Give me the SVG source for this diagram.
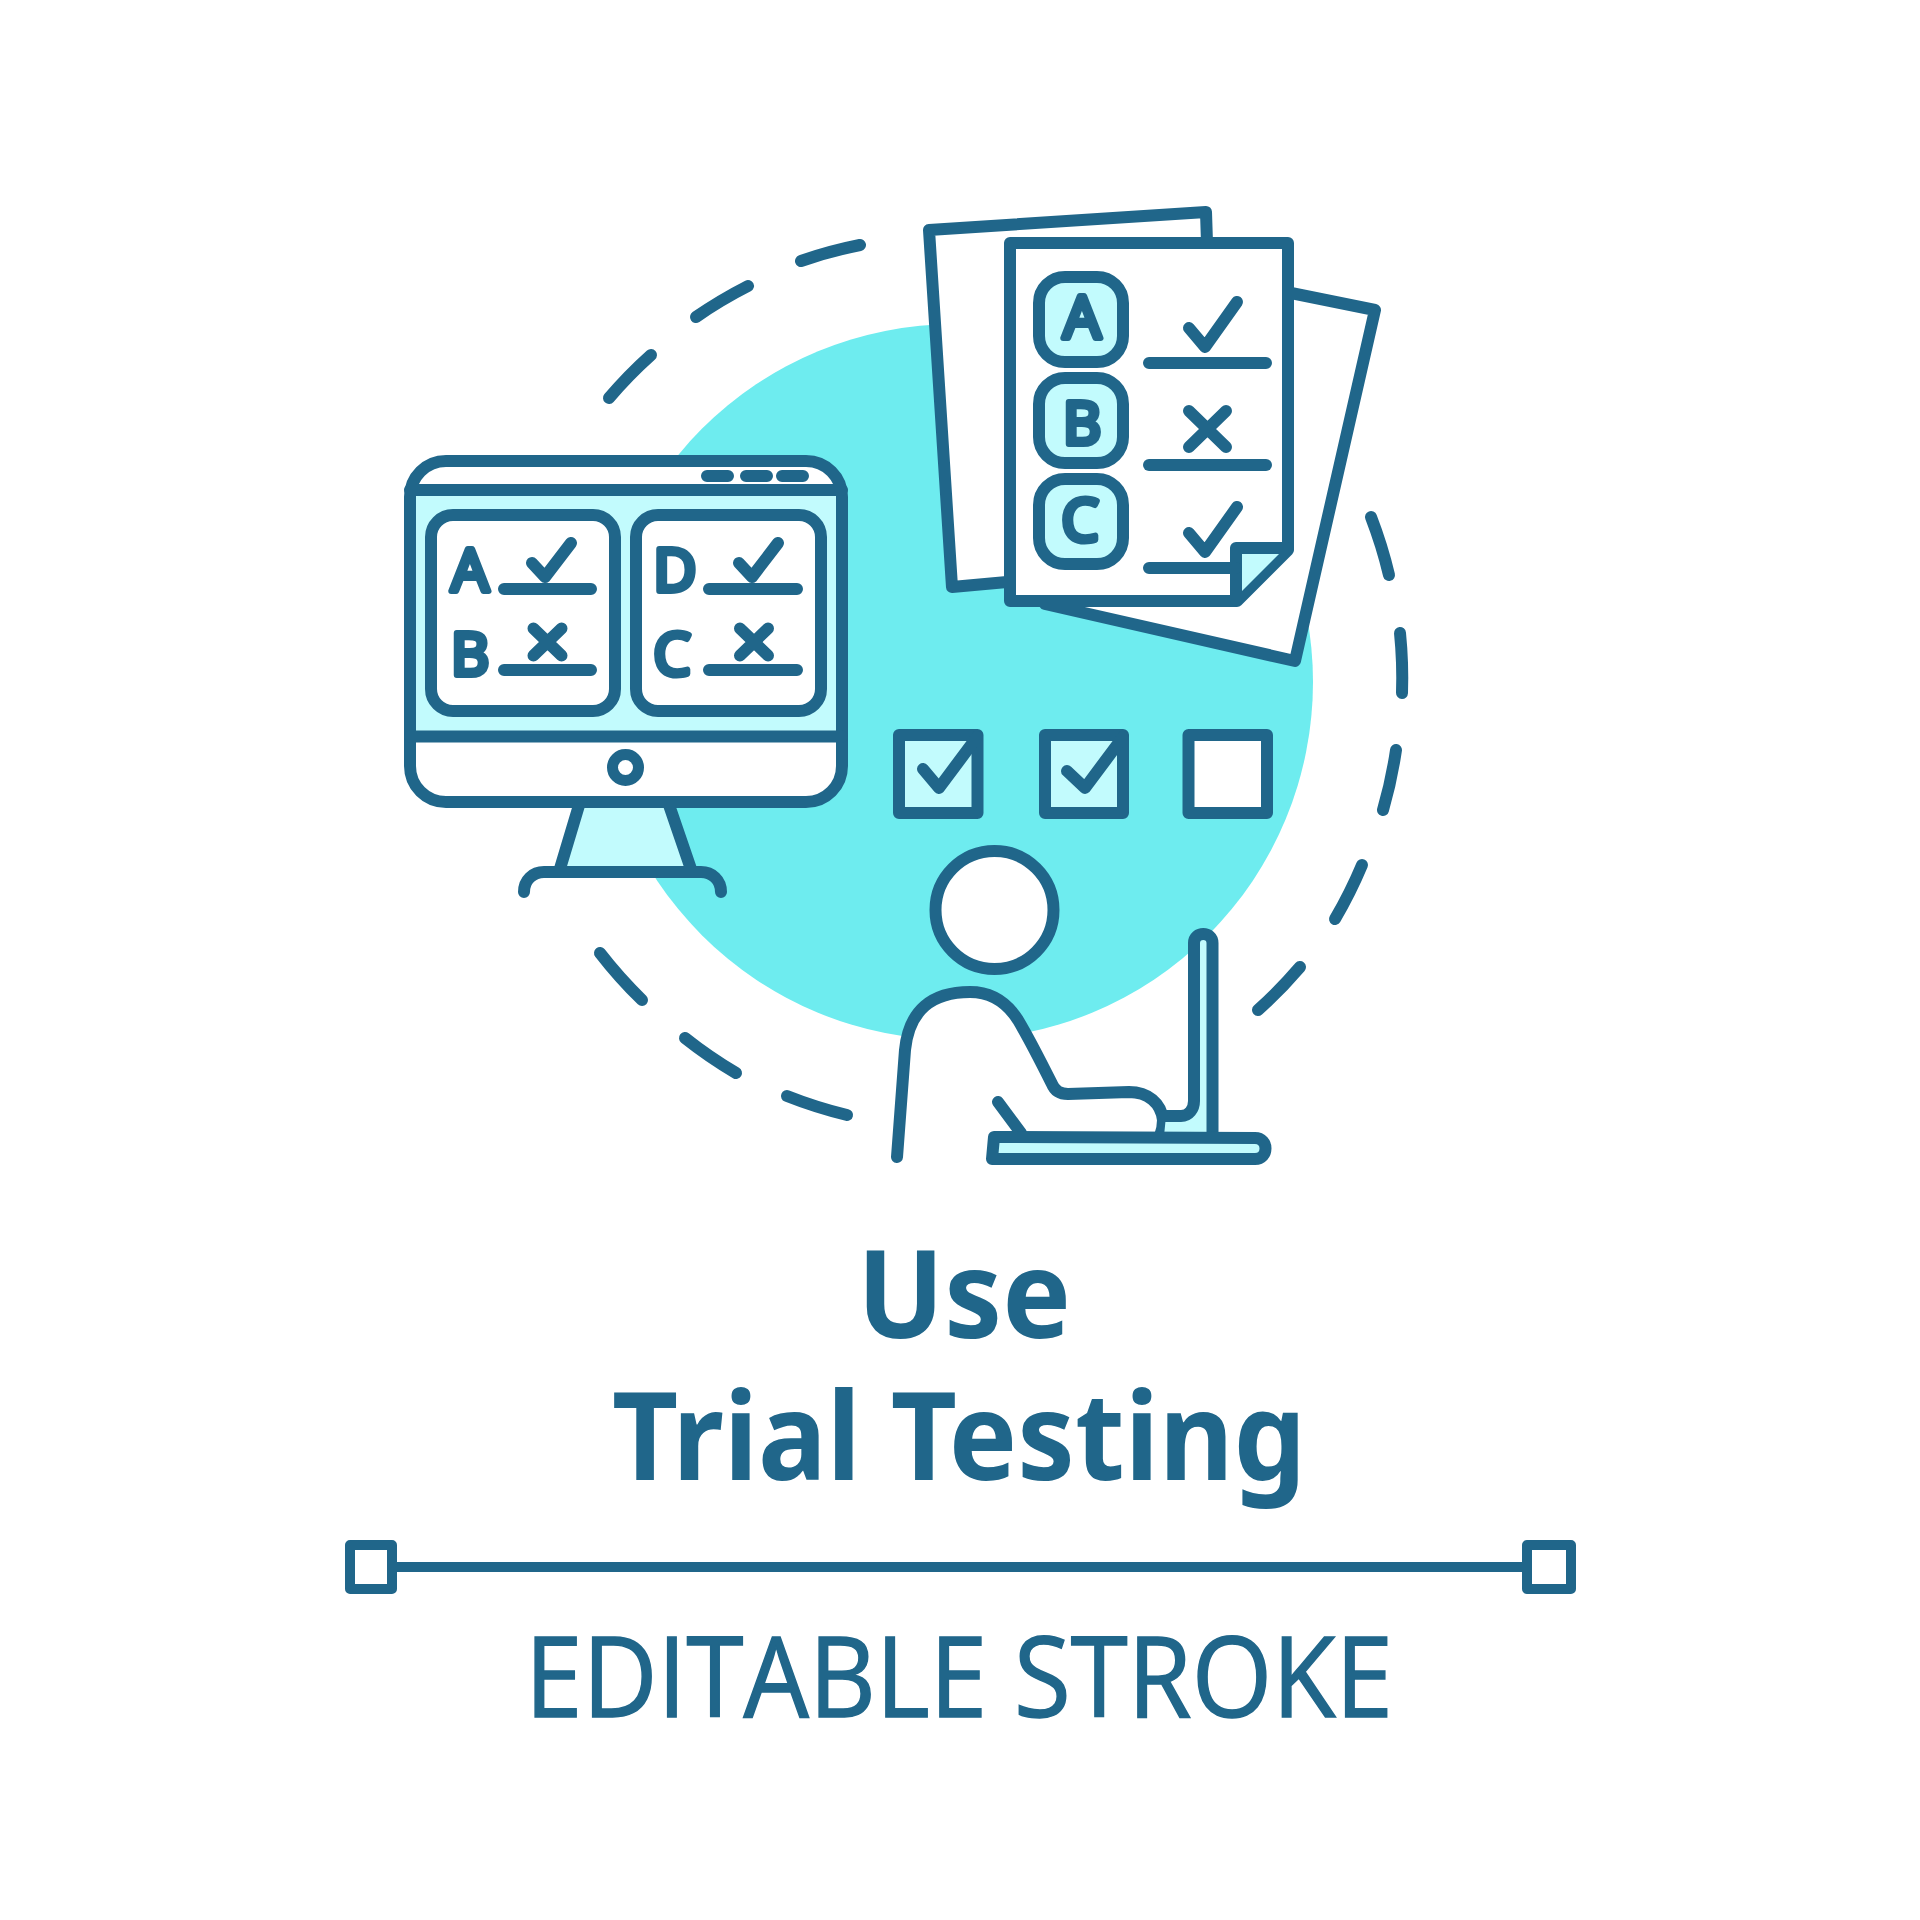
<svg xmlns="http://www.w3.org/2000/svg" width="1920" height="1920" viewBox="0 0 1920 1920">
<style>
.s{stroke:#20668a;stroke-width:12;stroke-linecap:round;stroke-linejoin:round;fill:none}
.w{fill:#fff}
.l{fill:#c2fbfd}
.t{font-family:"Noto Sans","Open Sans",sans-serif;fill:#20668a}
.b{font-weight:700}
.e{font-family:"Open Sans","Noto Sans",sans-serif;stroke:#20668a;stroke-width:1.500}
.g{font-family:"Open Sans","Liberation Sans",sans-serif;font-weight:400;font-size:59px;fill:#20668a;stroke:#20668a;stroke-width:6;stroke-linejoin:round;text-anchor:middle}
</style>
<rect width="1920" height="1920" fill="#fff"/>
<circle id="backdrop" cx="955" cy="682" r="358" fill="#6eecef"/>
<g id="dashes" class="s">
<path d="M609 398A447 447 0 0 1 651 355"/>
<path d="M696 317A447 447 0 0 1 748 286"/>
<path d="M801 261A447 447 0 0 1 860 245"/>
<path d="M1371 517A447 447 0 0 1 1389 575"/>
<path d="M1400 633A447 447 0 0 1 1402 693"/>
<path d="M1396 750A447 447 0 0 1 1383 810"/>
<path d="M1362 865A447 447 0 0 1 1335 919"/>
<path d="M1300 967A447 447 0 0 1 1258 1010"/>
<path d="M847 1115A447 447 0 0 1 787 1096"/>
<path d="M736 1073A447 447 0 0 1 685 1038"/>
<path d="M642 1000A447 447 0 0 1 600 953"/>
</g>
<g id="monitor">
<path class="s l" d="M580 802L559 872H692L668 802Z"/>
<path class="s" d="M524 892C524 880 533 872 544 872H701C712 872 721 880 721 892"/>
<path class="s w" d="M446 461H806C826 461 842 477 842 497V766C842 786 826 802 806 802H446C426 802 410 786 410 766V497C410 477 426 461 446 461Z"/>
<path class="l" d="M416 496H836V731H416Z"/>
<path class="s" d="M410 490H842M410 736.500H842"/>
<path class="s" d="M707 476H728M746 476H767M782 476H803"/>
<circle class="s w" cx="625.500" cy="767.500" r="13" style="stroke-width:11"/>
<g id="panel-left">
<rect class="s w" x="431" y="515" width="184" height="196" rx="22"/>
<text class="g" x="470" y="591">A</text>
<text class="g" x="470" y="675">B</text>
<path class="s" d="M532 563L545 577L571 543M504 589H591M504 670H591"/>
<path class="s" d="M533.500 628.500L561.500 655.500M561.500 628.500L533.500 655.500"/>
</g>
<g id="panel-right">
<rect class="s w" x="636" y="515" width="185" height="196" rx="22"/>
<text class="g" x="675" y="591">D</text>
<text class="g" x="672" y="675">C</text>
<path class="s" d="M739 563L752 577L778 543M709 589H797M709 670H797"/>
<path class="s" d="M740 628.500L768 655.500M768 628.500L740 655.500"/>
</g>
</g>
<g id="papers">
<path class="s w" d="M1207 243L1206 212L929 230L952 587L1007 582"/>
<path class="s w" d="M1291 293L1375 310L1295 661L1045 604"/>
<path class="s w" d="M1010 243H1288V550L1237 601H1010Z"/>
<path class="l" d="M1236 552H1281L1238 595Z"/>
<path class="s" d="M1236 600V548H1288"/>
<rect class="s l" x="1039" y="277" width="84" height="85" rx="26"/>
<rect class="s l" x="1039" y="378" width="84" height="85" rx="26"/>
<rect class="s l" x="1039" y="479" width="84" height="85" rx="26"/>
<text class="g" x="1082" y="338">A</text>
<text class="g" x="1082" y="444">B</text>
<text class="g" x="1080" y="541">C</text>
<path class="s" d="M1189 328L1205 347L1237 302M1149 363H1266"/>
<path class="s" d="M1189 411L1226 447M1226 411L1189 447"/>
<path class="s" d="M1149 465H1266"/>
<path class="s" d="M1189 533L1205 552L1237 507M1149 568H1236"/>
</g>
<g id="checkboxes">
<rect class="s l" x="899" y="735" width="78.500" height="78"/>
<path class="s" d="M923 769L939 788L977 737"/>
<rect class="s l" x="1045" y="735" width="78" height="78"/>
<path class="s" d="M1067 771L1085 788L1123 737"/>
<rect class="s w" x="1188.500" y="735" width="78.500" height="78"/>
</g>
<g id="person">
<circle class="s w" cx="994.500" cy="910" r="59"/>
<path class="w" d="M897 1157L905 1050C909 1010 932 992 970 992C990 992 1006 1001 1018 1020C1030 1040 1040 1060 1052 1084Q1056 1094 1068 1094L1129 1092C1148 1092 1161 1103 1163 1120L1160 1136L890 1160Z"/>
<path class="s" d="M897 1157L905 1050C909 1010 932 992 970 992C990 992 1006 1001 1018 1020C1030 1040 1040 1060 1052 1084Q1056 1094 1068 1094L1129 1092C1148 1092 1161 1103 1163 1120C1163 1127 1162 1131 1160 1136"/>
<path class="s" d="M998 1102L1021 1133"/>
</g>
<g id="laptop">
<path class="l" d="M1194 943C1194 931 1212 931 1212 943V1136H1164L1166 1116H1181C1189 1116 1194 1109 1194 1101Z"/>
<path class="s" d="M1212.500 1136V943C1212.500 931 1194 931 1194 943V1101C1194 1109 1189 1116 1181 1116H1165"/>
<path class="s l" d="M994 1137L1255 1138C1269 1138 1269 1159 1255 1159H992Z"/>
</g>
<g id="divider">
<path d="M392 1567H1527" stroke="#20668a" stroke-width="10" fill="none"/>
<rect x="350" y="1545" width="42" height="44" fill="#fff" stroke="#20668a" stroke-width="10" stroke-linejoin="round"/>
<rect x="1527" y="1545" width="44" height="44" fill="#fff" stroke="#20668a" stroke-width="10" stroke-linejoin="round"/>
</g>
<g id="title">
<text class="t b" x="857" y="1338" font-size="122" textLength="214" lengthAdjust="spacingAndGlyphs">Use</text>
<text class="t b" x="612" y="1480" font-size="122" textLength="694" lengthAdjust="spacingAndGlyphs">Trial Testing</text>
<text class="t e" x="525" y="1717" font-size="111" textLength="868" lengthAdjust="spacingAndGlyphs">EDITABLE STROKE</text>
</g>
</svg>
